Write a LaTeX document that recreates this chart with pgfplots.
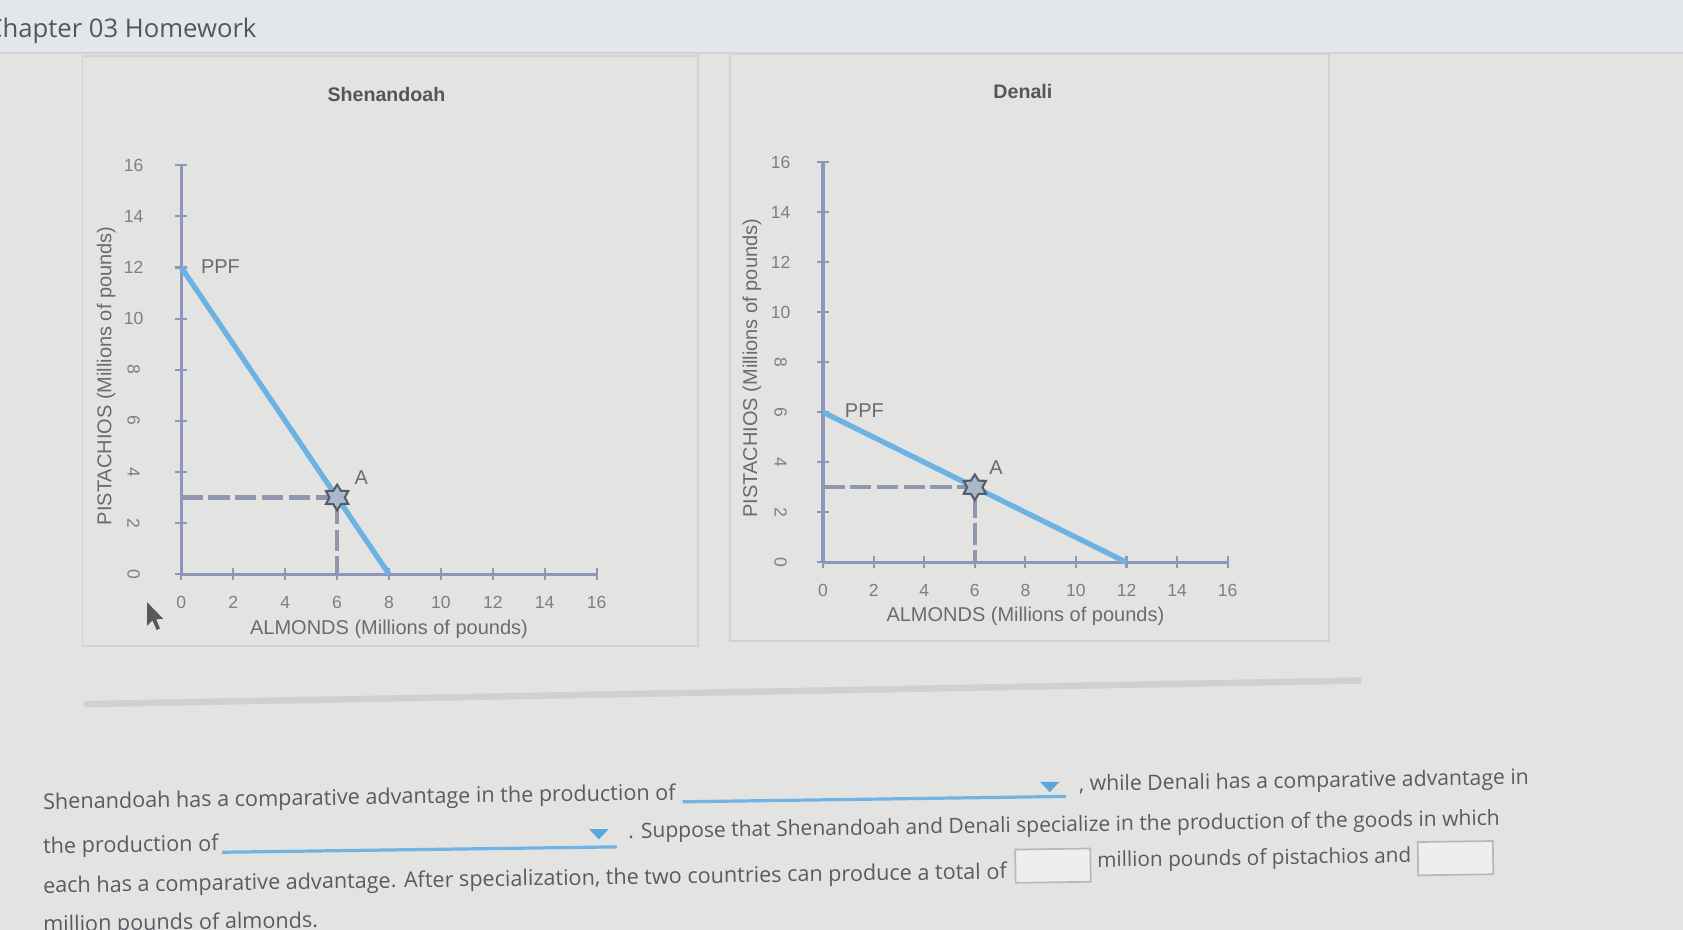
\documentclass[border=0pt]{standalone}
\usepackage{graphicx}
\usepackage{fontspec}
\setmainfont{Open Sans}
\newfontfamily\chartfont{Liberation Sans}
\usepackage{pgfplots}
\pgfplotsset{compat=1.18}

\definecolor{bg}{HTML}{E3E4E2}
\definecolor{hdr}{HTML}{E3E7EB}
\definecolor{hdrline}{HTML}{CDD3DA}
\definecolor{panelc}{HTML}{D0D3D5}
\definecolor{axc}{HTML}{8F96BC}
\definecolor{tickc}{HTML}{7C7E84}
\definecolor{labc}{HTML}{686B72}
\definecolor{ppf}{HTML}{6CB2E2}
\definecolor{dashc}{HTML}{8E97AE}
\definecolor{starfill}{HTML}{A9B8CA}
\definecolor{starline}{HTML}{575B66}
\definecolor{txt}{HTML}{585B63}
\definecolor{ddblue}{HTML}{5AA6DE}
\definecolor{sepc}{HTML}{D0D0CF}
\definecolor{boxc}{HTML}{B5B9BD}
\definecolor{boxfill}{HTML}{EEEEEC}

% six-pointed star for point A
\pgfdeclareplotmark{hexstar}{%
  \pgfpathmoveto{\pgfpointpolar{90}{\pgfplotmarksize}}%
  \pgfpathlineto{\pgfpointpolar{120}{0.6\pgfplotmarksize}}%
  \pgfpathlineto{\pgfpointpolar{150}{\pgfplotmarksize}}%
  \pgfpathlineto{\pgfpointpolar{180}{0.6\pgfplotmarksize}}%
  \pgfpathlineto{\pgfpointpolar{210}{\pgfplotmarksize}}%
  \pgfpathlineto{\pgfpointpolar{240}{0.6\pgfplotmarksize}}%
  \pgfpathlineto{\pgfpointpolar{270}{\pgfplotmarksize}}%
  \pgfpathlineto{\pgfpointpolar{300}{0.6\pgfplotmarksize}}%
  \pgfpathlineto{\pgfpointpolar{330}{\pgfplotmarksize}}%
  \pgfpathlineto{\pgfpointpolar{0}{0.6\pgfplotmarksize}}%
  \pgfpathlineto{\pgfpointpolar{30}{\pgfplotmarksize}}%
  \pgfpathlineto{\pgfpointpolar{60}{0.6\pgfplotmarksize}}%
  \pgfpathclose
  \pgfusepathqfillstroke}

\newcommand\rt[1]{\rotatebox{-90}{#1}}

\pgfplotsset{
  ppfaxis/.style={
    scale only axis, anchor=south west, clip=false,
    xmin=0, xmax=16, ymin=0, ymax=16,
    axis lines*=left,
    axis line style={axc, line width=1.7pt},
    xtick={0,2,...,16}, ytick={0,2,...,16},
    yticklabels={\rt{0},\rt{2},\rt{4},\rt{6},\rt{8},10,12,14,16},
    tick align=center, major tick length=0.22cm,
    tick style={axc, line width=1.1pt},
    /pgf/number format/assume math mode=true,
    ticklabel style={font=\chartfont\fontsize{9.3}{10}\selectfont, text=tickc},
    xlabel={ALMONDS (Millions of pounds)},
    ylabel={PISTACHIOS (Millions of pounds)},
    label style={font=\chartfont\fontsize{10.6}{12}\selectfont, text=labc},
    xlabel style={at={(axis description cs:0.5,-0.136)}, anchor=center},
    ylabel style={anchor=center},
  },
  ppfline/.style={ppf, line width=2.8pt},
  dashline/.style={dashc, line width=2.3pt, dash pattern=on 0.4cm off 0.1cm},
  ptA/.style={only marks, mark=hexstar, mark size=6.8pt,
    mark options={fill=starfill, draw=starline, line width=1.1pt, solid}},
}

\begin{document}
\begin{tikzpicture}[x=0.02cm, y=-0.02cm]
\useasboundingbox (0,0) rectangle (1568,866);
\clip (0,0) rectangle (1568,866);
\fill[bg] (0,0) rectangle (1568,866);
% header band
\fill[hdr] (0,0) rectangle (1568,49);
\draw[hdrline, line width=1pt] (0,49) -- (1568,49);
\node[anchor=base west, inner sep=0, text=txt!95!black,
  font=\fontsize{13.6}{15}\selectfont] at (-13,35) {Chapter 03 Homework};

% panels
\draw[panelc, line width=0.9pt] (77,52) rectangle (650,602);
\draw[panelc, line width=0.9pt] (680,50) rectangle (1238,597);
\node[text=labc!80!black, font=\chartfont\bfseries\fontsize{10.4}{12}\selectfont] at (360,88) {Shenandoah};
\node[text=labc!80!black, font=\chartfont\bfseries\fontsize{10.4}{12}\selectfont] at (953,85) {Denali};

% Shenandoah
\begin{axis}[ppfaxis, at={(3.38cm,-10.70cm)}, width=7.74cm, height=7.62cm,
  xticklabel style={anchor=center, yshift=-0.42cm},
  yticklabel style={anchor=center, xshift=-0.78cm},
  ylabel style={at={(axis description cs:-0.181,0.485)}}]
\addplot[dashline] coordinates {(0,3) (6,3) (6,0)};
\addplot[ppfline] coordinates {(0,12) (8,0)};
\addplot[ptA] coordinates {(6,3)};
\node[anchor=west, text=labc, font=\chartfont\fontsize{10.6}{12}\selectfont] at (axis cs:0.5,12.05) {PPF};
\node[text=labc, font=\chartfont\fontsize{10.6}{12}\selectfont] at (axis cs:6.93,3.77) {A};
\end{axis}

% Denali
\begin{axis}[ppfaxis, at={(15.34cm,-10.48cm)}, width=7.54cm, height=7.46cm,
  xticklabel style={anchor=center, yshift=-0.42cm},
  yticklabel style={anchor=center, xshift=-0.68cm},
  ylabel style={at={(axis description cs:-0.176,0.485)}}]
\addplot[dashline] coordinates {(0,3) (6,3) (6,0)};
\addplot[ppfline] coordinates {(0,6) (12,0)};
\addplot[ptA] coordinates {(6,3)};
\node[anchor=west, text=labc, font=\chartfont\fontsize{10.6}{12}\selectfont] at (axis cs:0.6,6.05) {PPF};
\node[text=labc, font=\chartfont\fontsize{10.6}{12}\selectfont] at (axis cs:6.84,3.79) {A};
\end{axis}

% mouse pointer
\fill[black!65] (137,561) -- (137,583) -- (142,578) -- (146,587) -- (149,585.5) -- (145.5,577) -- (152,576.5) -- cycle;

% separator
\draw[sepc, line width=3.4pt] (78,656) -- (1268,634);

% question text
\begin{scope}[every node/.style={anchor=base west, inner sep=0, rotate=0.85,
    text=txt, font=\fontsize{11.45}{13}\selectfont}]
\node at (40,754) {Shenandoah has a comparative advantage in the production of};
\node[font=\fontsize{11.25}{13}\selectfont] at (1005,737) {, while Denali has a comparative advantage in};
\node at (40,795) {the production of};
\node[font=\fontsize{11.15}{13}\selectfont] at (585,781) {. Suppose that Shenandoah and Denali specialize in the production of the goods in which};
\node at (40,832) {each has a comparative advantage. After specialization, the two countries can produce a total of};
\node[font=\fontsize{11}{13}\selectfont] at (1022,808) {million pounds of pistachios and};
\node at (40,868) {million pounds of almonds.};
\end{scope}

% drop-down menus
\draw[ddblue!85, line width=1.7pt] (636,747) -- (993,742);
\fill[ddblue] (969,728.5) -- (987,728.5) -- (978,738) -- cycle;
\draw[ddblue!85, line width=1.7pt] (207,794) -- (575,789);
\fill[ddblue] (549,772.5) -- (567,772.5) -- (558,782) -- cycle;

% answer boxes
\draw[boxc, fill=boxfill, line width=0.9pt, rotate around={0.8:(981,806)}] (946,791) rectangle (1016,822);
\draw[boxc, fill=boxfill, line width=0.9pt, rotate around={0.8:(1356,799)}] (1321,784) rectangle (1391,815);
\end{tikzpicture}
\end{document}
